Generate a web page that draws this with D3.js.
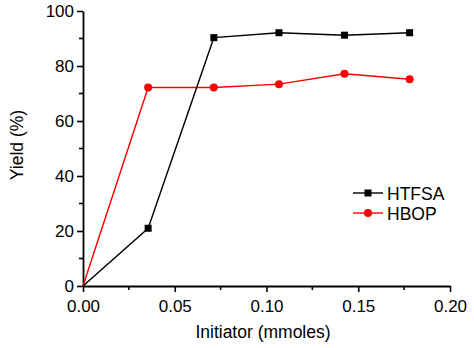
<!DOCTYPE html>
<html><head><meta charset="utf-8">
<script src="https://cdn.jsdelivr.net/npm/d3@7"></script>
<style>body{margin:0;background:#fff}svg{display:block}text{font-family:"Liberation Sans",Arial,sans-serif}</style>
</head><body>
<svg id="c" width="474" height="348"></svg>
<script>
const xValues = [0, 0.0355, 0.0713, 0.1068, 0.1425, 0.178];
const htfsa = [0, 21, 90.3, 92.1, 91.2, 92.1];
const hbop = [0, 72.2, 72.2, 73.4, 77.2, 75.2];
const seriesNames = ["HTFSA", "HBOP"];
const seriesColors = ["#000000", "#ff0000"];
const xTicks = [0, 0.05, 0.10, 0.15, 0.20];
const yTicks = [0, 20, 40, 60, 80, 100];

const svg = d3.select("#c");
const x = d3.scaleLinear().domain([0, 0.2]).range([83, 450]);
const y = d3.scaleLinear().domain([0, 100]).range([286, 11]);

// axes
const xAxis = d3.axisBottom(x).tickValues(xTicks).tickFormat(d3.format(".2f")).tickSize(6).tickSizeOuter(0).tickPadding(8);
const gx = svg.append("g").attr("transform", "translate(0,286)").call(xAxis);
gx.selectAll(".tick text").attr("font-size", 17).attr("fill", "#000");
const minorX = d3.range(0.025, 0.2, 0.05);
gx.selectAll(".minor").data(minorX).enter().append("line")
  .attr("x1", d => x(d)).attr("x2", d => x(d)).attr("y1", 0).attr("y2", 4).attr("stroke", "#000").attr("stroke-width", 1.6);

const yAxis = d3.axisLeft(y).tickValues(yTicks).tickSize(6).tickSizeOuter(0).tickPadding(3);
const gy = svg.append("g").attr("transform", "translate(83,0)").call(yAxis);
gy.selectAll(".tick text").attr("font-size", 17).attr("fill", "#000");
const minorY = d3.range(10, 100, 20);
gy.selectAll(".minor").data(minorY).enter().append("line")
  .attr("x1", -4).attr("x2", 0).attr("y1", d => y(d)).attr("y2", d => y(d)).attr("stroke", "#000").attr("stroke-width", 1.6);
[gx, gy].forEach(g => {
  g.select(".domain").attr("stroke", "#000").attr("stroke-width", 1.8);
  g.selectAll(".tick line").attr("stroke", "#000").attr("stroke-width", 1.6);
});

// titles
svg.append("text").attr("x", 263).attr("y", 338).attr("text-anchor", "middle").attr("font-size", 17.5).text("Initiator (mmoles)");
svg.append("text").attr("transform", "translate(23,145) rotate(-90)").attr("text-anchor", "middle").attr("font-size", 17.5).text("Yield (%)");

const line = d3.line().x(d => x(d[0])).y(d => y(d[1]));
const data = [htfsa, hbop].map(vals => xValues.map((xv, i) => [xv, vals[i]]));

[1, 0].forEach(si => {
  const pts = data[si];
  svg.append("path").datum(pts).attr("d", line).attr("fill", "none").attr("stroke", seriesColors[si]).attr("stroke-width", 1.4);
  if (si === 0) {
    svg.selectAll(null).data(pts.slice(1)).enter().append("rect")
      .attr("x", d => x(d[0]) - 3.5).attr("y", d => y(d[1]) - 3.5).attr("width", 7).attr("height", 7).attr("fill", seriesColors[si]);
  } else {
    svg.selectAll(null).data(pts.slice(1)).enter().append("circle")
      .attr("cx", d => x(d[0])).attr("cy", d => y(d[1])).attr("r", 4).attr("fill", seriesColors[si]);
  }
});

// legend
const leg = svg.append("g");
seriesNames.forEach((name, i) => {
  const yy = 193 + i * 20;
  leg.append("line").attr("x1", 353).attr("x2", 383).attr("y1", yy).attr("y2", yy).attr("stroke", seriesColors[i]).attr("stroke-width", 1.4);
  if (i === 0) leg.append("rect").attr("x", 368 - 3.5).attr("y", yy - 3.5).attr("width", 7).attr("height", 7).attr("fill", seriesColors[i]);
  else leg.append("circle").attr("cx", 368).attr("cy", yy).attr("r", 4).attr("fill", seriesColors[i]);
  leg.append("text").attr("x", 387).attr("y", yy + 6.5).attr("font-size", 17.5).text(name);
});
</script>
</body></html>
